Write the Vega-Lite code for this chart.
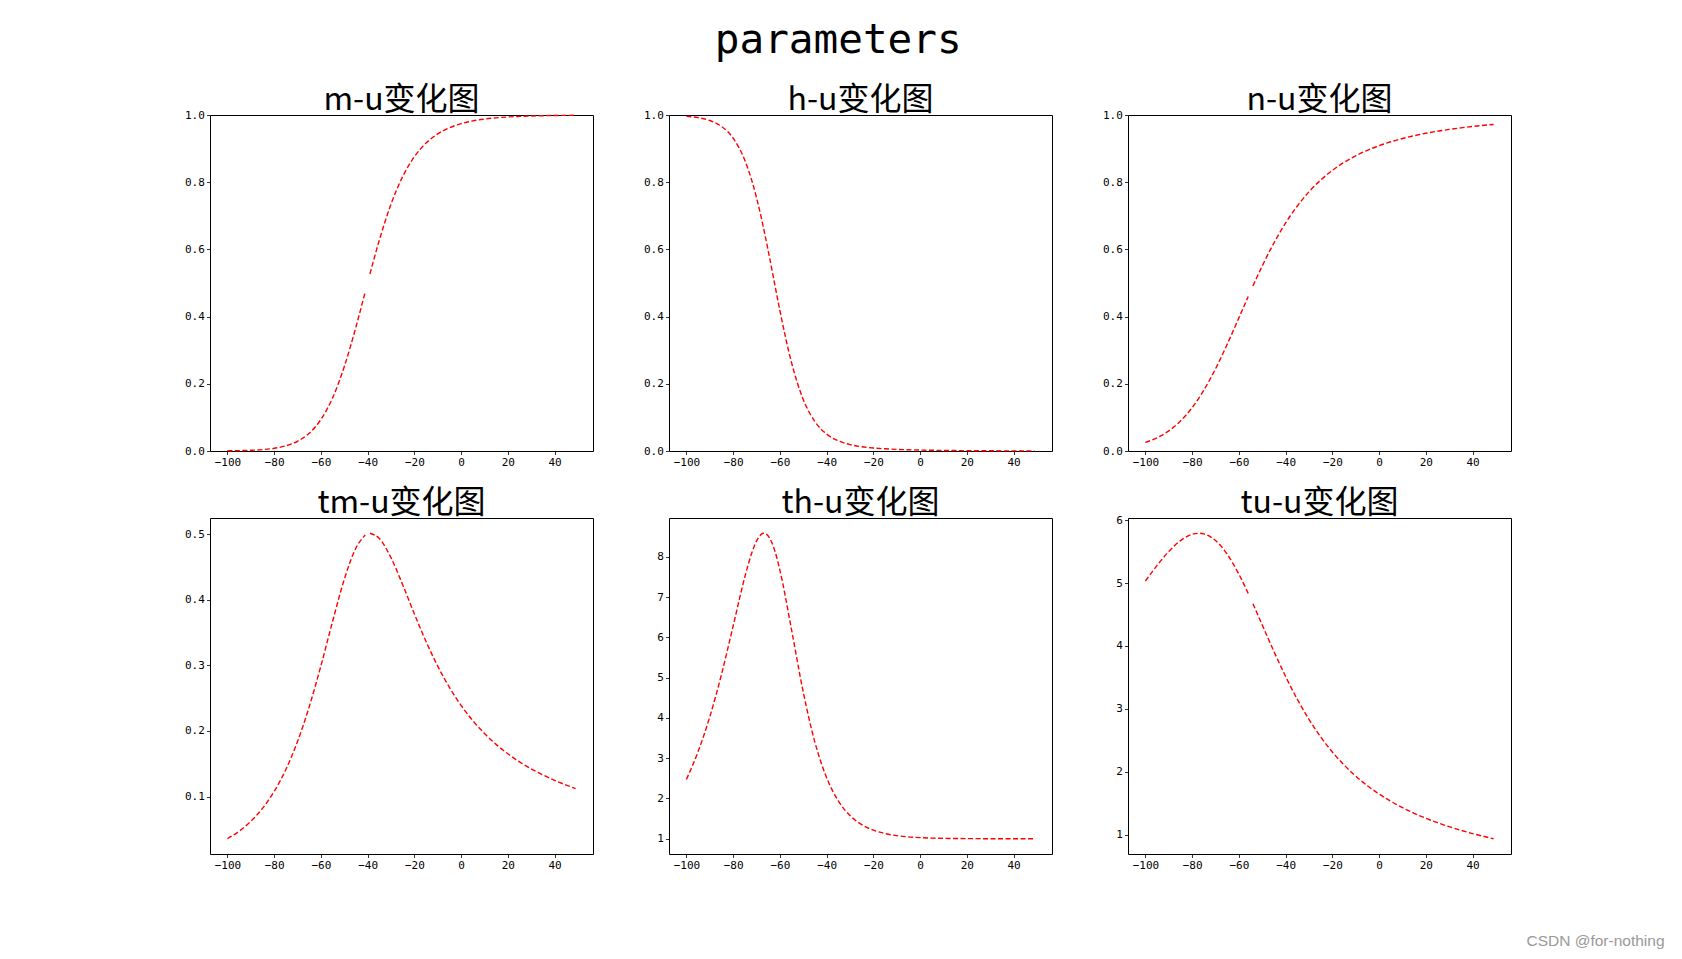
{
  "$schema": "https://vega.github.io/schema/vega-lite/v6.json",
  "background": "white",
  "padding": {"left": 183, "top": 19, "right": 5, "bottom": 5},
  "title": {"text": "parameters", "font": "DejaVu Sans Mono", "fontSize": 41, "fontWeight": "normal", "color": "black", "anchor": "middle", "offset": 21.5, "dx": -86},
  "config": {
    "view": {"stroke": "black", "strokeWidth": 1},
    "axis": {"domain": false, "grid": false, "tickColor": "black", "tickSize": 3.5, "tickWidth": 0.8, "labelColor": "black", "labelFont": "DejaVu Sans Mono", "labelFontSize": 11, "labelPadding": 2.2, "labelFlush": false, "labelOverlap": false, "title": null},
    "axisX": {"labelPadding": 1.5},
    "title": {"font": "Noto Sans CJK SC", "fontSize": 32, "fontWeight": "normal", "color": "black"},
    "line": {"color": "red", "strokeDash": [5, 2.5], "strokeWidth": 1.4, "interpolate": "monotone"}
  },
  "data": {"values": [
    {"p":"m","s":1,"v":-100,"y":0.000533},{"p":"m","s":1,"v":-95,"y":0.001065},{"p":"m","s":1,"v":-90,"y":0.00211},{"p":"m","s":1,"v":-85,"y":0.00414},{"p":"m","s":1,"v":-80,"y":0.00804},{"p":"m","s":1,"v":-75,"y":0.01539},{"p":"m","s":1,"v":-70,"y":0.02891},{"p":"m","s":1,"v":-65,"y":0.05293},{"p":"m","s":1,"v":-60,"y":0.09364},{"p":"m","s":1,"v":-55,"y":0.15805},{"p":"m","s":1,"v":-50,"y":0.25081},{"p":"m","s":1,"v":-45,"y":0.36922},{"p":"m","s":1,"v":-41,"y":0.47418},
    {"p":"m","s":2,"v":-39,"y":0.5269},{"p":"m","s":2,"v":-35,"y":0.62715},{"p":"m","s":2,"v":-30,"y":0.73435},{"p":"m","s":2,"v":-25,"y":0.81667},{"p":"m","s":2,"v":-20,"y":0.87569},{"p":"m","s":2,"v":-15,"y":0.91632},{"p":"m","s":2,"v":-10,"y":0.94369},{"p":"m","s":2,"v":-5,"y":0.96196},{"p":"m","s":2,"v":0,"y":0.97416},{"p":"m","s":2,"v":5,"y":0.98233},{"p":"m","s":2,"v":10,"y":0.98783},{"p":"m","s":2,"v":15,"y":0.99157},{"p":"m","s":2,"v":20,"y":0.99412},{"p":"m","s":2,"v":25,"y":0.99588},{"p":"m","s":2,"v":30,"y":0.99709},{"p":"m","s":2,"v":35,"y":0.99794},{"p":"m","s":2,"v":40,"y":0.99854},{"p":"m","s":2,"v":45,"y":0.99896},{"p":"m","s":2,"v":49,"y":0.9992},

    {"p":"h","s":1,"v":-100,"y":0.99629},{"p":"h","s":1,"v":-95,"y":0.99218},{"p":"h","s":1,"v":-90,"y":0.98361},{"p":"h","s":1,"v":-85,"y":0.96602},{"p":"h","s":1,"v":-80,"y":0.93098},{"p":"h","s":1,"v":-75,"y":0.86517},{"p":"h","s":1,"v":-72,"y":0.80458},{"p":"h","s":1,"v":-70,"y":0.75408},{"p":"h","s":1,"v":-68,"y":0.69571},{"p":"h","s":1,"v":-67,"y":0.66389},{"p":"h","s":1,"v":-66,"y":0.6306},{"p":"h","s":1,"v":-65,"y":0.59612},{"p":"h","s":1,"v":-62,"y":0.48895},{"p":"h","s":1,"v":-60,"y":0.41815},{"p":"h","s":1,"v":-55,"y":0.26263},{"p":"h","s":1,"v":-50,"y":0.15344},{"p":"h","s":1,"v":-45,"y":0.08739},{"p":"h","s":1,"v":-40,"y":0.05044},{"p":"h","s":1,"v":-35,"y":0.03029},{"p":"h","s":1,"v":-30,"y":0.01917},{"p":"h","s":1,"v":-25,"y":0.01279},{"p":"h","s":1,"v":-20,"y":0.00894},{"p":"h","s":1,"v":-15,"y":0.00648},{"p":"h","s":1,"v":-10,"y":0.00482},{"p":"h","s":1,"v":-5,"y":0.00365},{"p":"h","s":1,"v":0,"y":0.00279},{"p":"h","s":1,"v":5,"y":0.00215},{"p":"h","s":1,"v":10,"y":0.00166},{"p":"h","s":1,"v":15,"y":0.00129},{"p":"h","s":1,"v":20,"y":0.001},{"p":"h","s":1,"v":25,"y":0.00078},{"p":"h","s":1,"v":30,"y":0.00061},{"p":"h","s":1,"v":35,"y":0.00047},{"p":"h","s":1,"v":40,"y":0.00037},{"p":"h","s":1,"v":45,"y":0.00029},{"p":"h","s":1,"v":49,"y":0.00023},

    {"p":"n","s":1,"v":-100,"y":0.02545},{"p":"n","s":1,"v":-95,"y":0.03942},{"p":"n","s":1,"v":-90,"y":0.05996},{"p":"n","s":1,"v":-85,"y":0.0892},{"p":"n","s":1,"v":-80,"y":0.12912},{"p":"n","s":1,"v":-77,"y":0.15879},{"p":"n","s":1,"v":-75,"y":0.181},{"p":"n","s":1,"v":-70,"y":0.24459},{"p":"n","s":1,"v":-65,"y":0.31768},{"p":"n","s":1,"v":-60,"y":0.39627},{"p":"n","s":1,"v":-56,"y":0.45982},
    {"p":"n","s":2,"v":-54,"y":0.49099},{"p":"n","s":2,"v":-50,"y":0.55081},{"p":"n","s":2,"v":-45,"y":0.61905},{"p":"n","s":2,"v":-40,"y":0.67859},{"p":"n","s":2,"v":-35,"y":0.72917},{"p":"n","s":2,"v":-30,"y":0.77141},{"p":"n","s":2,"v":-25,"y":0.80636},{"p":"n","s":2,"v":-20,"y":0.83518},{"p":"n","s":2,"v":-15,"y":0.85895},{"p":"n","s":2,"v":-10,"y":0.87864},{"p":"n","s":2,"v":-5,"y":0.89502},{"p":"n","s":2,"v":0,"y":0.90873},{"p":"n","s":2,"v":5,"y":0.92028},{"p":"n","s":2,"v":10,"y":0.93006},{"p":"n","s":2,"v":15,"y":0.93841},{"p":"n","s":2,"v":20,"y":0.94557},{"p":"n","s":2,"v":25,"y":0.95174},{"p":"n","s":2,"v":30,"y":0.95708},{"p":"n","s":2,"v":35,"y":0.96174},{"p":"n","s":2,"v":40,"y":0.9658},{"p":"n","s":2,"v":45,"y":0.96936},{"p":"n","s":2,"v":49,"y":0.97191},

    {"p":"tm","s":1,"v":-100,"y":0.03575},{"p":"tm","s":1,"v":-95,"y":0.04717},{"p":"tm","s":1,"v":-90,"y":0.06221},{"p":"tm","s":1,"v":-85,"y":0.08196},{"p":"tm","s":1,"v":-80,"y":0.10778},{"p":"tm","s":1,"v":-75,"y":0.14123},{"p":"tm","s":1,"v":-70,"y":0.18389},{"p":"tm","s":1,"v":-65,"y":0.23677},{"p":"tm","s":1,"v":-60,"y":0.29914},{"p":"tm","s":1,"v":-55,"y":0.36686},{"p":"tm","s":1,"v":-50,"y":0.43096},{"p":"tm","s":1,"v":-45,"y":0.47904},{"p":"tm","s":1,"v":-41,"y":0.4987},
    {"p":"tm","s":2,"v":-39,"y":0.50141},{"p":"tm","s":2,"v":-35,"y":0.49352},{"p":"tm","s":2,"v":-30,"y":0.4642},{"p":"tm","s":2,"v":-25,"y":0.42296},{"p":"tm","s":2,"v":-20,"y":0.37859},{"p":"tm","s":2,"v":-15,"y":0.33644},{"p":"tm","s":2,"v":-10,"y":0.2989},{"p":"tm","s":2,"v":-5,"y":0.26655},{"p":"tm","s":2,"v":0,"y":0.23908},{"p":"tm","s":2,"v":5,"y":0.21587},{"p":"tm","s":2,"v":10,"y":0.19623},{"p":"tm","s":2,"v":15,"y":0.17955},{"p":"tm","s":2,"v":20,"y":0.16528},{"p":"tm","s":2,"v":25,"y":0.15298},{"p":"tm","s":2,"v":30,"y":0.14231},{"p":"tm","s":2,"v":35,"y":0.13299},{"p":"tm","s":2,"v":40,"y":0.12478},{"p":"tm","s":2,"v":45,"y":0.1175},{"p":"tm","s":2,"v":49,"y":0.11226},

    {"p":"th","s":1,"v":-100,"y":2.4733},{"p":"th","s":1,"v":-95,"y":3.1627},{"p":"th","s":1,"v":-90,"y":4.0259},{"p":"th","s":1,"v":-85,"y":5.0768},{"p":"th","s":1,"v":-80,"y":6.2823},{"p":"th","s":1,"v":-75,"y":7.4965},{"p":"th","s":1,"v":-72,"y":8.0997},{"p":"th","s":1,"v":-70,"y":8.3897},{"p":"th","s":1,"v":-68,"y":8.5543},{"p":"th","s":1,"v":-67,"y":8.5816},{"p":"th","s":1,"v":-66,"y":8.5693},{"p":"th","s":1,"v":-65,"y":8.516},{"p":"th","s":1,"v":-62,"y":8.1153},{"p":"th","s":1,"v":-60,"y":7.6702},{"p":"th","s":1,"v":-55,"y":6.1858},{"p":"th","s":1,"v":-50,"y":4.6405},{"p":"th","s":1,"v":-45,"y":3.3934},{"p":"th","s":1,"v":-40,"y":2.5151},{"p":"th","s":1,"v":-35,"y":1.9394},{"p":"th","s":1,"v":-30,"y":1.5757},{"p":"th","s":1,"v":-25,"y":1.3504},{"p":"th","s":1,"v":-20,"y":1.2122},{"p":"th","s":1,"v":-15,"y":1.128},{"p":"th","s":1,"v":-10,"y":1.0769},{"p":"th","s":1,"v":-5,"y":1.046},{"p":"th","s":1,"v":0,"y":1.0273},{"p":"th","s":1,"v":5,"y":1.0161},{"p":"th","s":1,"v":10,"y":1.0094},{"p":"th","s":1,"v":15,"y":1.0054},{"p":"th","s":1,"v":20,"y":1.0031},{"p":"th","s":1,"v":25,"y":1.0017},{"p":"th","s":1,"v":30,"y":1.0009},{"p":"th","s":1,"v":35,"y":1.0004},{"p":"th","s":1,"v":40,"y":1.0002},{"p":"th","s":1,"v":45,"y":1.0001},{"p":"th","s":1,"v":49,"y":1.0000},

    {"p":"tu","s":1,"v":-100,"y":5.0338},{"p":"tu","s":1,"v":-95,"y":5.2815},{"p":"tu","s":1,"v":-90,"y":5.502},{"p":"tu","s":1,"v":-85,"y":5.6747},{"p":"tu","s":1,"v":-80,"y":5.7758},{"p":"tu","s":1,"v":-77,"y":5.7922},{"p":"tu","s":1,"v":-75,"y":5.7821},{"p":"tu","s":1,"v":-70,"y":5.6771},{"p":"tu","s":1,"v":-65,"y":5.4586},{"p":"tu","s":1,"v":-60,"y":5.1413},{"p":"tu","s":1,"v":-56,"y":4.836},
    {"p":"tu","s":2,"v":-54,"y":4.6723},{"p":"tu","s":2,"v":-50,"y":4.3345},{"p":"tu","s":2,"v":-45,"y":3.9132},{"p":"tu","s":2,"v":-40,"y":3.5145},{"p":"tu","s":2,"v":-35,"y":3.1525},{"p":"tu","s":2,"v":-30,"y":2.8324},{"p":"tu","s":2,"v":-25,"y":2.5541},{"p":"tu","s":2,"v":-20,"y":2.3142},{"p":"tu","s":2,"v":-15,"y":2.1081},{"p":"tu","s":2,"v":-10,"y":1.9308},{"p":"tu","s":2,"v":-5,"y":1.778},{"p":"tu","s":2,"v":0,"y":1.6455},{"p":"tu","s":2,"v":5,"y":1.53},{"p":"tu","s":2,"v":10,"y":1.4287},{"p":"tu","s":2,"v":15,"y":1.3394},{"p":"tu","s":2,"v":20,"y":1.2601},{"p":"tu","s":2,"v":25,"y":1.1893},{"p":"tu","s":2,"v":30,"y":1.1257},{"p":"tu","s":2,"v":35,"y":1.0685},{"p":"tu","s":2,"v":40,"y":1.0166},{"p":"tu","s":2,"v":45,"y":0.9693},{"p":"tu","s":2,"v":49,"y":0.9345}
  ]},
  "columns": 3,
  "bounds": "flush",
  "spacing": {"row": 67, "column": 76},
  "concat": [
    {"width": 383, "height": 336, "title": {"text": "m-u变化图", "offset": -7.5},
     "transform": [{"filter": "datum.p == 'm'"}],
     "mark": "line",
     "encoding": {
       "x": {"field": "v", "type": "quantitative", "scale": {"domain": [-107.45, 56.45], "nice": false, "zero": false}, "axis": {"values": [-100, -80, -60, -40, -20, 0, 20, 40]}},
       "y": {"field": "y", "type": "quantitative", "scale": {"domain": [0, 1], "nice": false, "zero": false}, "axis": {"values": [0, 0.2, 0.4, 0.6, 0.8, 1.0], "format": ".1f"}},
       "detail": {"field": "s", "type": "nominal"}}},
    {"width": 383, "height": 336, "title": {"text": "h-u变化图", "offset": -7.5},
     "transform": [{"filter": "datum.p == 'h'"}],
     "mark": "line",
     "encoding": {
       "x": {"field": "v", "type": "quantitative", "scale": {"domain": [-107.45, 56.45], "nice": false, "zero": false}, "axis": {"values": [-100, -80, -60, -40, -20, 0, 20, 40]}},
       "y": {"field": "y", "type": "quantitative", "scale": {"domain": [0, 1], "nice": false, "zero": false}, "axis": {"values": [0, 0.2, 0.4, 0.6, 0.8, 1.0], "format": ".1f"}},
       "detail": {"field": "s", "type": "nominal"}}},
    {"width": 383, "height": 336, "title": {"text": "n-u变化图", "offset": -7.5},
     "transform": [{"filter": "datum.p == 'n'"}],
     "mark": "line",
     "encoding": {
       "x": {"field": "v", "type": "quantitative", "scale": {"domain": [-107.45, 56.45], "nice": false, "zero": false}, "axis": {"values": [-100, -80, -60, -40, -20, 0, 20, 40]}},
       "y": {"field": "y", "type": "quantitative", "scale": {"domain": [0, 1], "nice": false, "zero": false}, "axis": {"values": [0, 0.2, 0.4, 0.6, 0.8, 1.0], "format": ".1f"}},
       "detail": {"field": "s", "type": "nominal"}}},
    {"width": 383, "height": 336, "title": {"text": "tm-u变化图", "offset": -2},
     "transform": [{"filter": "datum.p == 'tm'"}],
     "mark": "line",
     "encoding": {
       "x": {"field": "v", "type": "quantitative", "scale": {"domain": [-107.45, 56.45], "nice": false, "zero": false}, "axis": {"values": [-100, -80, -60, -40, -20, 0, 20, 40]}},
       "y": {"field": "y", "type": "quantitative", "scale": {"domain": [0.01247, 0.52469], "nice": false, "zero": false}, "axis": {"values": [0.1, 0.2, 0.3, 0.4, 0.5], "format": ".1f"}},
       "detail": {"field": "s", "type": "nominal"}}},
    {"width": 383, "height": 336, "title": {"text": "th-u变化图", "offset": -2},
     "transform": [{"filter": "datum.p == 'th'"}],
     "mark": "line",
     "encoding": {
       "x": {"field": "v", "type": "quantitative", "scale": {"domain": [-107.45, 56.45], "nice": false, "zero": false}, "axis": {"values": [-100, -80, -60, -40, -20, 0, 20, 40]}},
       "y": {"field": "y", "type": "quantitative", "scale": {"domain": [0.621, 8.962], "nice": false, "zero": false}, "axis": {"values": [1, 2, 3, 4, 5, 6, 7, 8], "format": "d"}},
       "detail": {"field": "s", "type": "nominal"}}},
    {"width": 383, "height": 336, "title": {"text": "tu-u变化图", "offset": -5.5},
     "transform": [{"filter": "datum.p == 'tu'"}],
     "mark": "line",
     "encoding": {
       "x": {"field": "v", "type": "quantitative", "scale": {"domain": [-107.45, 56.45], "nice": false, "zero": false}, "axis": {"values": [-100, -80, -60, -40, -20, 0, 20, 40], "title": "CSDN @for-nothing", "titleFont": "Liberation Sans", "titleFontSize": 15.5, "titleFontWeight": "normal", "titleColor": "#999999", "titleAlign": "right", "titleBaseline": "alphabetic", "titleAnchor": null, "titleX": 536, "titleY": 91}},
       "y": {"field": "y", "type": "quantitative", "scale": {"domain": [0.6916, 6.0354], "nice": false, "zero": false}, "axis": {"values": [1, 2, 3, 4, 5, 6], "format": "d"}},
       "detail": {"field": "s", "type": "nominal"}}}
  ]
}
